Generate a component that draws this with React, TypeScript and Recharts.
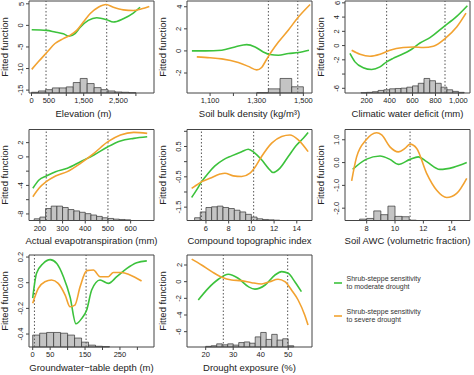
import React from 'react';
import { ComposedChart, Line, XAxis, YAxis, ReferenceLine, ReferenceArea } from 'recharts';

const FONT = '"Liberation Sans", Arial, Helvetica, sans-serif';
const GREEN = '#3cc23c';
const ORANGE = '#f2a230';
const INK = '#222';

// Elevation (m)
const elevModerate = [[6, -1.0], [437, -1.15], [675, -1.54], [914, -1.95], [1078, -2.5], [1250, -1.9], [1394, -0.5], [1632, 1.15], [1874, 1.77], [2161, 1.3], [2351, 0.77], [2638, 1.54], [2925, 2.84], [3118, 4.2]];
const elevSevere = [[6, -10.2], [195, -8.45], [437, -6.3], [675, -4.2], [914, -3.07], [1106, -2.3], [1299, -1.15], [1489, 0.77], [1681, 2.7], [1920, 4.2], [2141, 4.84], [2351, 4.2], [2638, 3.6], [2925, 3.46], [3167, 3.84], [3385, 4.38]];
const elevCounts = [5, 14, 23, 35, 35, 42, 72, 100, 65, 37, 23, 14, 7, 5, 2];
const elevCuts = [417, 2161];
const elevXTicks = [0, 500, 1000, 1500, 2000, 2500, 3000];
const elevXLabels = [0, 500, 1500, 2500];
const elevYTicks = [-15, -10, -5, 0, 5];

// Soil bulk density
const bulkModerate = [[1022, 0], [1079, 0], [1150, 0.06], [1207, 0.36], [1257, 0.57], [1293, 0.36], [1328, -0.09], [1357, -0.33], [1393, -0.39], [1436, -0.24], [1478, -0.15], [1524, 0.06]];
const bulkSevere = [[1043, -0.54], [1100, -0.62], [1150, -0.72], [1221, -1.05], [1264, -1.4], [1300, -1.72], [1321, -1.5], [1336, -1.0], [1350, -0.5], [1393, 0.8], [1436, 1.9], [1476, 3.0], [1529, 4.2]];
const bulkCounts = [1, 12, 42, 18];
const bulkCuts = [1350, 1476];
const bulkXTicks = [1100, 1200, 1300, 1400, 1500];
const bulkXLabels = [1100, 1300, 1500];
const bulkYTicks = [-2, 0, 2, 4];

// Climatic water deficit
const cwdModerate = [[54, -1.1], [98, -2.29], [170, -3.1], [244, -3.35], [316, -2.99], [374, -2.29], [430, -1.8], [491, -1.35], [578, -0.66], [665, 0.36], [752, 1.12], [868, 2.6], [985, 4.1], [1078, 5.6]];
const cwdSevere = [[69, -0.66], [142, -1.22], [229, -1.5], [316, -1.22], [403, -0.66], [519, -0.28], [607, -0.2], [694, -0.28], [781, -0.1], [883, 0.98], [985, 2.6], [1066, 4.55]];
const cwdCounts = [1, 2, 4, 8, 10, 13, 14, 15, 18, 22, 30, 45, 38, 30, 18, 10, 5, 2];
const cwdCuts = [374, 883];
const cwdXTicks = [200, 400, 600, 800, 1000];
const cwdYTicks = [-6, -4, -2, 0, 2, 4, 6];
const cwdYLabels = [-6, -2, 0, 2, 4, 6];

// Actual evapotranspiration
const aetModerate = [[169, -4.4], [196, -3.24], [228, -2.68], [269, -2.07], [321, -1.6], [379, -0.67], [438, 0.27], [500, 1.43], [555, 2.23], [614, 2.6], [673, 2.83]];
const aetSevere = [[169, -5.58], [196, -4.4], [228, -3.48], [269, -2.68], [321, -2.07], [379, -0.9], [438, 0.5], [500, 2.13], [555, 3.07], [614, 3.44], [673, 3.3]];
const aetCounts = [5, 10, 35, 42, 42, 38, 32, 28, 24, 20, 16, 12, 8, 6, 4, 3, 2];
const aetCuts = [228, 500];
const aetXTicks = [200, 300, 400, 500, 600];
const aetYTicks = [-8, -6, -4, -2, 0, 2];
const aetYLabels = [-8, -4, 0, 2];

// Compound topographic index
const ctiModerate = [[4.74, -1.18], [5.18, -0.93], [5.62, -0.66], [6.2, -0.38], [6.79, -0.14], [7.52, 0.06], [8.26, 0.19], [9.15, 0.33], [9.73, 0.41], [10.26, 0.3], [10.9, 0.06], [11.5, -0.22], [11.9, -0.36], [12.5, -0.22], [13.25, 0.17], [13.99, 0.55], [14.57, 0.77], [15.0, 0.96]];
const ctiSevere = [[4.74, -0.88], [5.18, -0.77], [5.62, -0.66], [6.35, -0.55], [7.23, -0.41], [7.67, -0.38], [8.4, -0.47], [9.15, -0.49], [9.88, -0.38], [10.26, -0.22], [10.9, 0.17], [11.79, 0.61], [12.67, 0.83], [13.4, 0.88], [14.13, 0.72], [15.0, 0.33]];
const ctiCounts = [8, 25, 38, 40, 42, 38, 35, 30, 25, 18, 10, 5, 3, 2, 1];
const ctiCuts = [5.6, 10.2];
const ctiXTicks = [6, 8, 10, 12, 14];
const ctiYTicks = [-1.5, -1.0, -0.5, 0, 0.5, 1.0];
const ctiYLabels = [-1.5, -0.5, 0.5];

// Soil AWC
const awcModerate = [[7.01, -0.3], [7.95, 0.14], [8.94, 0.29], [9.64, 0.14], [10.23, -0.08], [11.06, 0.14], [11.64, 0.25], [12.23, 0.04], [13.17, -0.3], [14.11, -0.21], [15.06, 0]];
const awcSevere = [[6.94, -0.8], [7.29, 0.25], [7.95, 0.99], [8.7, 1.31], [9.06, 1.21], [9.64, 0.69], [10.23, 0.47], [10.7, 0.62], [11.06, 0.81], [11.53, 0.62], [12.23, -0.47], [12.94, -1.21], [13.65, -1.53], [14.35, -1.35], [15.06, -0.69]];
const awcCounts = [4, 6, 28, 17, 42, 12, 11, 1];
const awcCuts = [7.95, 11.06];
const awcXTicks = [8, 10, 12, 14];
const awcYTicks = [-2, -1, 0, 1];

// Groundwater-table depth
const gwtModerate = [[0, -0.12], [11, 0.073], [30, 0.15], [50, 0.18], [69, 0.15], [88, 0.047], [107, -0.11], [124, -0.32], [140, -0.28], [155, -0.21], [169, -0.057], [193, 0.021], [217, -0.005], [241, 0.047], [269, 0.11], [298, 0.156], [327, 0.17]];
const gwtSevere = [[0, -0.16], [16, -0.044], [35, 0.008], [54, 0.021], [73, -0.005], [93, -0.096], [107, -0.187], [121, -0.174], [136, -0.03], [155, 0.094], [174, 0.099], [193, 0.047], [217, 0.047], [231, 0.08], [255, 0.08], [279, 0.06], [312, 0.013]];
const gwtCounts = [32, 37, 39, 39, 37, 32, 24, 13, 5, 2, 1];
const gwtCuts = [5, 153];
const gwtXTicks = [0, 50, 100, 150, 200, 250, 300];
const gwtXLabels = [0, 50, 150, 250];
const gwtYTicks = [-0.4, -0.2, 0, 0.2];

// Drought exposure
const deModerate = [[17.3, -2.2], [20.9, -0.8], [24.6, 0.29], [28.2, 0.89], [31.8, 0.41], [35.5, -0.6], [37.9, -0.9], [41.6, -0.4], [45.2, 0.8], [47.6, 1.2], [50, 1.0], [52.4, 0], [54.8, -1.2]];
const deSevere = [[14.9, 2.7], [18.5, 2.0], [22.2, 1.2], [25.8, 0.53], [29.4, 0.2], [33, 0.12], [36.7, -0.12], [40.3, -0.28], [43.3, 0], [46.3, 0.29], [48.8, 0], [51.2, -1.0], [53.6, -2.2], [56, -4.0], [57.2, -5.2]];
const deCounts = [2, 4, 10, 7, 10, 6, 14, 16, 12, 32, 46, 24, 40, 22, 26, 4];
const deCuts = [26.4, 49.8];
const deXTicks = [20, 30, 40, 50];
const deYTicks = [-6, -4, -2, 0, 2];

const legendLabels = [
  ['Shrub-steppe sensitivity', 'to moderate drought'],
  ['Shrub-steppe sensitivity', 'to severe drought'],
];

// layout of the 3x3 grid (pixels)
const rows = [
  { top: 0, height: 122, plotTop: 1, plotBottom: 93 },
  { top: 124, height: 126, plotTop: 129.5, plotBottom: 220.5 },
  { top: 250, height: 125, plotTop: 255, plotBottom: 347 },
];
const CELL_W = 158;
const PLOT_L = 29;
const PLOT_R = 4;

const panels = [
  { title: 'Elevation (m)', titleShift: -8, row: 0, col: 0, xDomain: [-72, 3520], yDomain: [-15.67, 5.65], xTicks: elevXTicks, xLabels: elevXLabels, yTicks: elevYTicks, yLabels: elevYTicks, yDigits: 0, moderate: elevModerate, severe: elevSevere, binStart: 0, binStep: 200, counts: elevCounts, cuts: elevCuts },
  { title: 'Soil bulk density (kg/m³)', row: 0, col: 1, xDomain: [1001, 1537], yDomain: [-3.81, 4.52], xTicks: bulkXTicks, xLabels: bulkXLabels, yTicks: bulkYTicks, yLabels: bulkYTicks, yDigits: 0, moderate: bulkModerate, severe: bulkSevere, binStart: 1300, binStep: 50, counts: bulkCounts, cuts: bulkCuts },
  { title: 'Climatic water deficit (mm)', row: 0, col: 2, xDomain: [11, 1101], yDomain: [-6.66, 6.26], xTicks: cwdXTicks, xLabels: cwdXTicks, yTicks: cwdYTicks, yLabels: cwdYLabels, yDigits: 0, moderate: cwdModerate, severe: cwdSevere, binStart: 150, binStep: 50, counts: cwdCounts, cuts: cwdCuts },
  { title: 'Actual evapotranspiration (mm)', row: 1, col: 0, xDomain: [152, 703], yDomain: [-8.92, 3.84], xTicks: aetXTicks, xLabels: aetXTicks, yTicks: aetYTicks, yLabels: aetYLabels, yDigits: 0, moderate: aetModerate, severe: aetSevere, binStart: 175, binStep: 25, counts: aetCounts, cuts: aetCuts },
  { title: 'Compound topographic index', row: 1, col: 1, xDomain: [4.33, 15.34], yDomain: [-1.94, 1.06], xTicks: ctiXTicks, xLabels: ctiXTicks, yTicks: ctiYTicks, yLabels: ctiYLabels, yDigits: 1, moderate: ctiModerate, severe: ctiSevere, binStart: 5, binStep: 0.5, counts: ctiCounts, cuts: ctiCuts },
  { title: 'Soil AWC (volumetric fraction)', row: 1, col: 2, xDomain: [6.47, 15.29], yDomain: [-2.54, 1.45], xTicks: awcXTicks, xLabels: awcXTicks, yTicks: awcYTicks, yLabels: awcYTicks, yDigits: 1, moderate: awcModerate, severe: awcSevere, binStart: 7.5, binStep: 0.5, counts: awcCounts, cuts: awcCuts },
  { title: 'Groundwater\u2212table depth (m)', row: 2, col: 0, xDomain: [-10.6, 347.6], yDomain: [-0.501, 0.216], xTicks: gwtXTicks, xLabels: gwtXLabels, yTicks: gwtYTicks, yLabels: gwtYTicks, yDigits: 1, moderate: gwtModerate, severe: gwtSevere, binStart: 0, binStep: 20, counts: gwtCounts, cuts: gwtCuts },
  { title: 'Drought exposure (%)', row: 2, col: 1, xDomain: [13.2, 58.65], yDomain: [-7.84, 3.2], xTicks: deXTicks, xLabels: deXTicks, yTicks: deYTicks, yLabels: deYTicks, yDigits: 0, moderate: deModerate, severe: deSevere, binStart: 20, binStep: 2, counts: deCounts, cuts: deCuts },
];

const fmt = (v: number, digits: number) => (digits > 0 ? v.toFixed(digits) : v.toLocaleString('en-US'));

const makeYTick = (labels: number[], digits: number) => (props: any) => {
  const { x, y, payload } = props;
  if (!labels.includes(payload.value)) return <g />;
  return (
    <text x={x} y={y} transform={`rotate(-90 ${x} ${y})`} textAnchor="middle" fontSize={7.5} fill={INK} fontFamily={FONT}>
      {fmt(payload.value, digits)}
    </text>
  );
};

// x-axis title drawn from the axis viewBox so it can be nudged per panel
const makeXTitle = (title: string, shift: number) => (props: any) => {
  const vb = props.viewBox;
  return (
    <text x={vb.x + vb.width / 2 + shift} y={vb.y + 23.5} textAnchor="middle" fontSize={9.5} fill={INK} fontFamily={FONT}>
      {title}
    </text>
  );
};

function Panel({ p }: { p: any }) {
  const r = rows[p.row];
  const xAxisH = r.top + r.height - r.plotBottom;
  const histTop = Math.max(...p.counts) / 0.158;
  const toPts = (arr: number[][]) => arr.map(([x, y]) => ({ x, y }));

  return (
    <div style={{ position: 'absolute', left: p.col * CELL_W, top: r.top }}>
      <ComposedChart width={CELL_W} height={r.height} margin={{ top: r.plotTop - r.top, right: PLOT_R, left: 0, bottom: 0 }}>
        <XAxis
          dataKey="x"
          type="number"
          domain={p.xDomain}
          allowDataOverflow
          ticks={p.xTicks}
          interval={0}
          height={xAxisH}
          axisLine={false}
          tickLine={{ stroke: '#444' }}
          tickSize={3}
          tickMargin={2}
          tick={{ fontSize: 7.5, fill: INK, fontFamily: FONT }}
          tickFormatter={(v: number) => (p.xLabels.includes(v) ? fmt(v, 0) : '')}
          label={{ content: makeXTitle(p.title, p.titleShift || 0) }}
        />
        <YAxis
          yAxisId="fit"
          type="number"
          domain={p.yDomain}
          allowDataOverflow
          ticks={p.yTicks}
          interval={0}
          width={PLOT_L}
          axisLine={false}
          tickLine={{ stroke: '#444' }}
          tickSize={3}
          tickMargin={2.5}
          tick={makeYTick(p.yLabels, p.yDigits)}
          label={{ value: 'Fitted function', angle: -90, position: 'insideLeft', offset: 5, style: { textAnchor: 'middle', fontSize: 9.5, fill: INK, fontFamily: FONT } }}
        />
        <YAxis yAxisId="hist" type="number" domain={[0, histTop]} allowDataOverflow hide />
        {p.counts.map((c: number, i: number) => (
          <ReferenceArea
            key={`bin-${i}`}
            yAxisId="hist"
            x1={p.binStart + i * p.binStep}
            x2={p.binStart + (i + 1) * p.binStep}
            y1={0}
            y2={c}
            fill="#c4c4c4"
            fillOpacity={1}
            stroke="#333"
            strokeWidth={0.7}
            ifOverflow="visible"
          />
        ))}
        {p.cuts.map((c: number, i: number) => (
          <ReferenceLine key={`cut-${i}`} yAxisId="fit" x={c} stroke="#555" strokeDasharray="1.5 2" strokeWidth={1} />
        ))}
        <Line yAxisId="fit" data={toPts(p.moderate)} dataKey="y" type="monotone" stroke={GREEN} strokeWidth={1.6} dot={false} isAnimationActive={false} />
        <Line yAxisId="fit" data={toPts(p.severe)} dataKey="y" type="monotone" stroke={ORANGE} strokeWidth={1.6} dot={false} isAnimationActive={false} />
        <ReferenceArea yAxisId="fit" x1={p.xDomain[0]} x2={p.xDomain[1]} y1={p.yDomain[0]} y2={p.yDomain[1]} fill="none" stroke="#444" strokeWidth={1} ifOverflow="visible" />
      </ComposedChart>
    </div>
  );
}

function LegendBox() {
  const colors = [GREEN, ORANGE];
  const ys = [33, 66];
  return (
    <svg width={CELL_W} height={125} style={{ position: 'absolute', left: 2 * CELL_W, top: 250 }}>
      {legendLabels.map((lines, i) => (
        <g key={i}>
          <line x1={18} x2={26} y1={ys[i]} y2={ys[i]} stroke={colors[i]} strokeWidth={1.6} />
          {lines.map((t, j) => (
            <text key={j} x={30.5} y={ys[i] - 0.8 + (j - 0.5) * 8.3 + 2.5} fontSize={7} fill="#333" fontFamily={FONT}>
              {t}
            </text>
          ))}
        </g>
      ))}
    </svg>
  );
}

export default function App() {
  return (
    <div style={{ position: 'absolute', left: 0, top: 0, width: 474, height: 375, background: '#fff', overflow: 'hidden' }}>
      {panels.map((p, i) => (
        <Panel key={i} p={p} />
      ))}
      <LegendBox />
    </div>
  );
}
